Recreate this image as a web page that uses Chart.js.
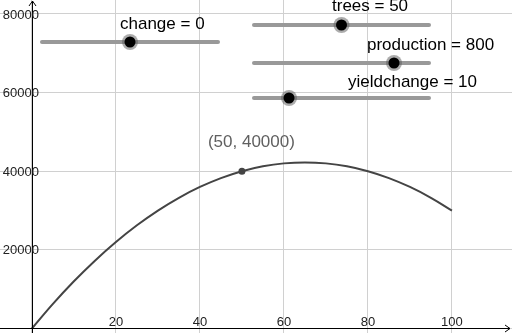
<!DOCTYPE html>
<html>
<head>
<meta charset="utf-8">
<script src="https://cdn.jsdelivr.net/npm/chart.js@4/dist/chart.umd.min.js"></script>
<style>
  body { margin: 0; background: #fff; }
  canvas { display: block; }
</style>
</head>
<body>
<canvas id="graphChart" width="512" height="333"></canvas>
<script>
// curve
const xValues = [0, 5, 10, 15, 20, 25, 30, 35, 40, 45, 50, 55, 60, 65, 70, 75, 80, 85, 90, 95, 100];
const yValues = [0, 6250, 12000, 17250, 22000, 26250, 30000, 33250, 36000, 38250, 40000,
                 41250, 42000, 42250, 42000, 41250, 40000, 38250, 36000, 33250, 30000];
const markedPoint = [50, 40000];
const xTicks = [20, 40, 60, 80, 100];
const yTicks = [20000, 40000, 60000, 80000];

// sliders
const sliderNames = ['change', 'trees', 'production', 'yieldchange'];
const sliderValues = [0, 50, 800, 10];
const sliderMin = [-10, 0, 0, 0];
const sliderMax = [10, 100, 1000, 50];

// screen placement of the slider widgets (pixels)
const sliderLayout = [
    { x1: 42, x2: 218, y: 42, lx: 120, ly: 29 },
    { x1: 254, x2: 429, y: 25, lx: 332, ly: 11 },
    { x1: 254, x2: 429, y: 63, lx: 367, ly: 50 },
    { x1: 254, x2: 429, y: 98, lx: 348, ly: 87 }
];

const FONT = '"Liberation Sans", Arial, sans-serif';

const overlay = {
    id: 'overlay',
    afterDatasetsDraw(chart) {
        const ctx = chart.ctx;
        const xs = chart.scales.x, ys = chart.scales.y;
        const x0 = xs.getPixelForValue(0);
        const y0 = ys.getPixelForValue(0);
        ctx.save();

        // axes
        ctx.strokeStyle = '#000';
        ctx.lineWidth = 1;
        ctx.beginPath();
        ctx.moveTo(Math.round(x0) + 0.5, chart.height);
        ctx.lineTo(Math.round(x0) + 0.5, 1);
        ctx.moveTo(0, Math.round(y0) + 0.5);
        ctx.lineTo(chart.width - 2, Math.round(y0) + 0.5);
        ctx.stroke();
        // arrow heads
        ctx.beginPath();
        ctx.moveTo(Math.round(x0) - 3, 6);
        ctx.lineTo(Math.round(x0) + 0.5, 1);
        ctx.lineTo(Math.round(x0) + 4, 6);
        ctx.moveTo(chart.width - 7, Math.round(y0) - 3);
        ctx.lineTo(chart.width - 2, Math.round(y0) + 0.5);
        ctx.lineTo(chart.width - 7, Math.round(y0) + 4);
        ctx.stroke();

        // tick labels
        ctx.fillStyle = '#222';
        ctx.font = '13px ' + FONT;
        ctx.textAlign = 'right';
        ctx.textBaseline = 'middle';
        yTicks.forEach(v => {
            ctx.fillText(String(v), x0 + 7, ys.getPixelForValue(v) + 1);
        });
        ctx.textAlign = 'center';
        ctx.textBaseline = 'alphabetic';
        xTicks.forEach(v => {
            ctx.fillText(String(v), xs.getPixelForValue(v), y0 - 2);
        });

        // point label
        const px = xs.getPixelForValue(markedPoint[0]);
        const py = ys.getPixelForValue(markedPoint[1]);
        ctx.fillStyle = '#606060';
        ctx.font = '17px ' + FONT;
        ctx.textAlign = 'left';
        ctx.fillText('(' + markedPoint[0] + ', ' + markedPoint[1] + ')', px - 34, py - 24);

        // sliders
        sliderNames.forEach((name, i) => {
            const s = sliderLayout[i];
            ctx.strokeStyle = '#999';
            ctx.lineWidth = 4;
            ctx.lineCap = 'round';
            ctx.beginPath();
            ctx.moveTo(s.x1, s.y);
            ctx.lineTo(s.x2, s.y);
            ctx.stroke();
            const f = (sliderValues[i] - sliderMin[i]) / (sliderMax[i] - sliderMin[i]);
            const dx = s.x1 + f * (s.x2 - s.x1);
            ctx.fillStyle = 'rgba(90,90,90,0.5)';
            ctx.beginPath();
            ctx.arc(dx, s.y, 8, 0, Math.PI * 2);
            ctx.fill();
            ctx.fillStyle = '#000';
            ctx.beginPath();
            ctx.arc(dx, s.y, 5.5, 0, Math.PI * 2);
            ctx.fill();
            ctx.fillStyle = '#000';
            ctx.font = '17px ' + FONT;
            ctx.fillText(name + ' = ' + sliderValues[i], s.lx, s.ly);
        });
        ctx.restore();
    }
};

const ctx = document.getElementById('graphChart').getContext('2d');
new Chart(ctx, {
    type: 'scatter',
    data: {
        datasets: [{
            data: xValues.map((x, i) => ({ x: x, y: yValues[i] })),
            showLine: true,
            borderColor: '#444',
            borderWidth: 2,
            pointRadius: 0,
            pointHoverRadius: 0,
            tension: 0.4,
            order: 2
        }, {
            data: [{ x: markedPoint[0], y: markedPoint[1] }],
            pointRadius: 3.5,
            backgroundColor: '#444',
            borderColor: '#444',
            borderWidth: 0,
            order: 1
        }]
    },
    options: {
        responsive: false,
        animation: false,
        devicePixelRatio: 1,
        layout: { padding: 0, autoPadding: false },
        plugins: { legend: { display: false }, tooltip: { enabled: false } },
        scales: {
            x: {
                type: 'linear',
                min: -7.6,
                max: 114.3,
                border: { display: false },
                grid: { color: '#d0d0d0', drawTicks: false, tickLength: 0 },
                ticks: { display: false, padding: 0 },
                afterBuildTicks: s => { s.ticks = [0].concat(xTicks).map(v => ({ value: v })); },
                afterFit: s => { s.height = 0; s.paddingLeft = 0; s.paddingRight = 0; }
            },
            y: {
                min: -1150,
                max: 83560,
                border: { display: false },
                grid: { color: '#d0d0d0', drawTicks: false, tickLength: 0 },
                ticks: { display: false, padding: 0 },
                afterBuildTicks: s => { s.ticks = [0].concat(yTicks).map(v => ({ value: v })); },
                afterFit: s => { s.width = 0; s.paddingTop = 0; s.paddingBottom = 0; }
            }
        }
    },
    plugins: [overlay]
});
</script>
</body>
</html>
